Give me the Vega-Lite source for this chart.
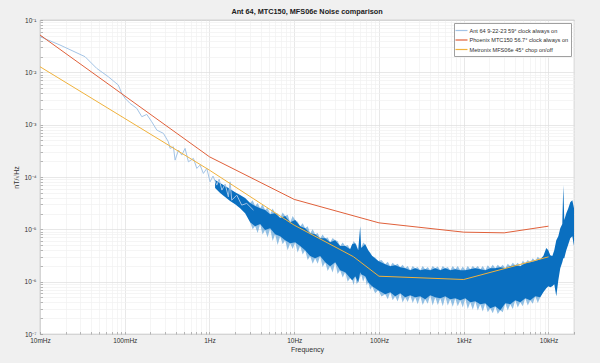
{
  "$schema": "https://vega.github.io/schema/vega-lite/v6.json",
  "width": 534,
  "height": 314,
  "autosize": {"type": "none"},
  "padding": {"left": 40, "top": 20, "right": 26, "bottom": 29},
  "background": "#f0f0f0",
  "config": {
    "font": "Liberation Sans",
    "view": {"fill": "white", "stroke": "#a0a0a0", "strokeWidth": 0.8},
    "axis": {"domain": false, "ticks": true, "tickSize": -2.5, "tickColor": "#8c8c8c", "tickWidth": 0.6, "labelFont": "Liberation Sans", "labelFontSize": 6.5, "labelColor": "#303030", "titleFont": "Liberation Sans", "titleFontSize": 7, "titleFontWeight": "normal", "titleColor": "#303030", "labelOverlap": false, "labelFlush": false}
  },
  "title": {"text": "Ant 64, MTC150, MFS06e Noise comparison", "fontSize": 7.3, "fontWeight": "bold", "color": "#202020", "offset": 2, "font": "Liberation Sans"},
  "datasets": {
    "lines": [
      {"series": "Ant 64 9-22-23 59°  clock always on", "f": 0.01, "v": 0.048},
      {"series": "Ant 64 9-22-23 59°  clock always on", "f": 0.0172, "v": 0.0333},
      {"series": "Ant 64 9-22-23 59°  clock always on", "f": 0.034, "v": 0.0199},
      {"series": "Ant 64 9-22-23 59°  clock always on", "f": 0.0467, "v": 0.0119},
      {"series": "Ant 64 9-22-23 59°  clock always on", "f": 0.064, "v": 0.00824},
      {"series": "Ant 64 9-22-23 59°  clock always on", "f": 0.084, "v": 0.00571},
      {"series": "Ant 64 9-22-23 59°  clock always on", "f": 0.0922, "v": 0.00396},
      {"series": "Ant 64 9-22-23 59°  clock always on", "f": 0.101, "v": 0.00318},
      {"series": "Ant 64 9-22-23 59°  clock always on", "f": 0.1156, "v": 0.00255},
      {"series": "Ant 64 9-22-23 59°  clock always on", "f": 0.1387, "v": 0.00205},
      {"series": "Ant 64 9-22-23 59°  clock always on", "f": 0.159, "v": 0.00142},
      {"series": "Ant 64 9-22-23 59°  clock always on", "f": 0.182, "v": 0.00157},
      {"series": "Ant 64 9-22-23 59°  clock always on", "f": 0.208, "v": 0.00114},
      {"series": "Ant 64 9-22-23 59°  clock always on", "f": 0.239, "v": 0.000788},
      {"series": "Ant 64 9-22-23 59°  clock always on", "f": 0.286, "v": 0.000682},
      {"series": "Ant 64 9-22-23 59°  clock always on", "f": 0.327, "v": 0.000471},
      {"series": "Ant 64 9-22-23 59°  clock always on", "f": 0.343, "v": 0.000352},
      {"series": "Ant 64 9-22-23 59°  clock always on", "f": 0.375, "v": 0.000378},
      {"series": "Ant 64 9-22-23 59°  clock always on", "f": 0.393, "v": 0.00021},
      {"series": "Ant 64 9-22-23 59°  clock always on", "f": 0.43, "v": 0.000327},
      {"series": "Ant 64 9-22-23 59°  clock always on", "f": 0.471, "v": 0.000262},
      {"series": "Ant 64 9-22-23 59°  clock always on", "f": 0.515, "v": 0.000352},
      {"series": "Ant 64 9-22-23 59°  clock always on", "f": 0.564, "v": 0.000195},
      {"series": "Ant 64 9-22-23 59°  clock always on", "f": 0.646, "v": 0.000227},
      {"series": "Ant 64 9-22-23 59°  clock always on", "f": 0.708, "v": 0.000146},
      {"series": "Ant 64 9-22-23 59°  clock always on", "f": 0.774, "v": 0.000169},
      {"series": "Ant 64 9-22-23 59°  clock always on", "f": 0.847, "v": 0.000117},
      {"series": "Ant 64 9-22-23 59°  clock always on", "f": 0.929, "v": 0.000146},
      {"series": "Ant 64 9-22-23 59°  clock always on", "f": 1.016, "v": 0.0000809},
      {"series": "Ant 64 9-22-23 59°  clock always on", "f": 1.1, "v": 0.000104},
      {"series": "Ant 64 9-22-23 59°  clock always on", "f": 1.22, "v": 0.00007},
      {"series": "Ant 64 9-22-23 59°  clock always on", "f": 1.3, "v": 0.0000912},
      {"series": "Ant 64 9-22-23 59°  clock always on", "f": 1.4, "v": 0.0000562},
      {"series": "Ant 64 9-22-23 59°  clock always on", "f": 1.53, "v": 0.0000731},
      {"series": "Ant 64 9-22-23 59°  clock always on", "f": 1.67, "v": 0.0000418},
      {"series": "Ant 64 9-22-23 59°  clock always on", "f": 1.75, "v": 0.0000809},
      {"series": "Ant 64 9-22-23 59°  clock always on", "f": 1.83, "v": 0.0000361},
      {"series": "Ant 64 9-22-23 59°  clock always on", "f": 2.1, "v": 0.000045},
      {"series": "Ant 64 9-22-23 59°  clock always on", "f": 2.4, "v": 0.000029},
      {"series": "Ant 64 9-22-23 59°  clock always on", "f": 2.75, "v": 0.0000313},
      {"series": "Ant 64 9-22-23 59°  clock always on", "f": 3.3, "v": 0.0000233},
      {"series": "Phoenix MTC150 56.7° clock always on", "f": 0.01, "v": 0.0517},
      {"series": "Phoenix MTC150 56.7° clock always on", "f": 1, "v": 0.000243},
      {"series": "Phoenix MTC150 56.7° clock always on", "f": 10, "v": 0.0000373},
      {"series": "Phoenix MTC150 56.7° clock always on", "f": 100, "v": 0.0000133},
      {"series": "Phoenix MTC150 56.7° clock always on", "f": 1000, "v": 0.00000883},
      {"series": "Phoenix MTC150 56.7° clock always on", "f": 3000, "v": 0.00000857},
      {"series": "Phoenix MTC150 56.7° clock always on", "f": 10000, "v": 0.0000115},
      {"series": "Metronix MFS06e  45° chop on/off", "f": 0.01, "v": 0.0128},
      {"series": "Metronix MFS06e  45° chop on/off", "f": 1, "v": 0.000135},
      {"series": "Metronix MFS06e  45° chop on/off", "f": 10, "v": 0.000012},
      {"series": "Metronix MFS06e  45° chop on/off", "f": 50, "v": 0.000003},
      {"series": "Metronix MFS06e  45° chop on/off", "f": 100, "v": 0.00000127},
      {"series": "Metronix MFS06e  45° chop on/off", "f": 1000, "v": 0.0000011},
      {"series": "Metronix MFS06e  45° chop on/off", "f": 10000, "v": 0.00000298}
    ],
    "band": [
      {"f": 1.164, "v": 8.73e-5, "v2": 6.14e-5},
      {"f": 1.334, "v": 7.64e-5, "v2": 4.92e-5},
      {"f": 1.528, "v": 6.7e-5, "v2": 4.13e-5},
      {"f": 1.75, "v": 5.87e-5, "v2": 3.46e-5},
      {"f": 2.005, "v": 5.14e-5, "v2": 3.03e-5},
      {"f": 2.297, "v": 4.51e-5, "v2": 2.54e-5},
      {"f": 2.632, "v": 3.95e-5, "v2": 2.04e-5},
      {"f": 3.015, "v": 3.17e-5, "v2": 1.37e-5},
      {"f": 3.454, "v": 2.78e-5, "v2": 1.15e-5},
      {"f": 3.957, "v": 2.54e-5, "v2": 1.26e-5},
      {"f": 4.53, "v": 2.33e-5, "v2": 9.66e-6},
      {"f": 5.19, "v": 1.95e-5, "v2": 1.05e-5},
      {"f": 5.95, "v": 2.04e-5, "v2": 8.09e-6},
      {"f": 6.82, "v": 1.64e-5, "v2": 7.41e-6},
      {"f": 7.81, "v": 1.79e-5, "v2": 6.21e-6},
      {"f": 8.95, "v": 1.37e-5, "v2": 5.45e-6},
      {"f": 10.25, "v": 1.5e-5, "v2": 5.69e-6},
      {"f": 11.74, "v": 1.15e-5, "v2": 4.78e-6},
      {"f": 13.45, "v": 1.05e-5, "v2": 4.0e-6},
      {"f": 15.41, "v": 8.46e-6, "v2": 3.08e-6},
      {"f": 17.65, "v": 8.09e-6, "v2": 2.81e-6},
      {"f": 20.2, "v": 6.79e-6, "v2": 3.08e-6},
      {"f": 23.2, "v": 6.79e-6, "v2": 2.36e-6},
      {"f": 26.5, "v": 5.69e-6, "v2": 1.98e-6},
      {"f": 30.4, "v": 6.21e-6, "v2": 2.36e-6},
      {"f": 34.8, "v": 4.78e-6, "v2": 1.66e-6},
      {"f": 39.9, "v": 4.78e-6, "v2": 1.52e-6},
      {"f": 45.7, "v": 4.18e-6, "v2": 1.17e-6},
      {"f": 48.3, "v": 5.21e-6, "v2": 1.07e-6},
      {"f": 52.4, "v": 5.45e-6, "v2": 1.27e-6},
      {"f": 56.8, "v": 4.0e-6, "v2": 9.77e-7},
      {"f": 60.0, "v": 1.15e-5, "v2": 1.52e-6},
      {"f": 61.6, "v": 4.38e-6, "v2": 1.39e-6},
      {"f": 68.7, "v": 5.21e-6, "v2": 1.27e-6},
      {"f": 74.5, "v": 4.0e-6, "v2": 9.77e-7},
      {"f": 83.1, "v": 3.08e-6, "v2": 8.2e-7},
      {"f": 97.9, "v": 2.47e-6, "v2": 6.87e-7},
      {"f": 118.4, "v": 2.16e-6, "v2": 5.77e-7},
      {"f": 135.6, "v": 1.98e-6, "v2": 6.3e-7},
      {"f": 155.3, "v": 2.07e-6, "v2": 5.28e-7},
      {"f": 177.8, "v": 1.89e-6, "v2": 6.03e-7},
      {"f": 203.8, "v": 1.81e-6, "v2": 5.06e-7},
      {"f": 233.4, "v": 1.66e-6, "v2": 5.52e-7},
      {"f": 267.4, "v": 1.81e-6, "v2": 5.06e-7},
      {"f": 306.3, "v": 1.66e-6, "v2": 5.28e-7},
      {"f": 350.9, "v": 1.73e-6, "v2": 4.62e-7},
      {"f": 401.9, "v": 1.66e-6, "v2": 5.52e-7},
      {"f": 461.3, "v": 1.81e-6, "v2": 5.06e-7},
      {"f": 528.4, "v": 1.66e-6, "v2": 4.84e-7},
      {"f": 605.3, "v": 1.81e-6, "v2": 5.28e-7},
      {"f": 693.4, "v": 1.66e-6, "v2": 4.62e-7},
      {"f": 794.3, "v": 1.73e-6, "v2": 4.84e-7},
      {"f": 909.9, "v": 1.66e-6, "v2": 4.43e-7},
      {"f": 1042, "v": 1.66e-6, "v2": 4.84e-7},
      {"f": 1194, "v": 1.73e-6, "v2": 4.06e-7},
      {"f": 1368, "v": 1.81e-6, "v2": 4.24e-7},
      {"f": 1567, "v": 1.73e-6, "v2": 3.72e-7},
      {"f": 1795, "v": 1.66e-6, "v2": 3.88e-7},
      {"f": 2056, "v": 1.81e-6, "v2": 3.11e-7},
      {"f": 2355, "v": 1.81e-6, "v2": 3.4e-7},
      {"f": 2698, "v": 1.89e-6, "v2": 2.85e-7},
      {"f": 3090, "v": 1.81e-6, "v2": 3.88e-7},
      {"f": 3540, "v": 1.98e-6, "v2": 3.72e-7},
      {"f": 4055, "v": 2.07e-6, "v2": 4.43e-7},
      {"f": 4645, "v": 1.98e-6, "v2": 4.06e-7},
      {"f": 5321, "v": 2.26e-6, "v2": 4.84e-7},
      {"f": 6095, "v": 2.36e-6, "v2": 4.43e-7},
      {"f": 6982, "v": 2.47e-6, "v2": 5.28e-7},
      {"f": 7998, "v": 2.69e-6, "v2": 5.06e-7},
      {"f": 8690, "v": 3.08e-6, "v2": 6.3e-7},
      {"f": 9419, "v": 4.38e-6, "v2": 7.52e-7},
      {"f": 9954, "v": 4.0e-6, "v2": 8.2e-7},
      {"f": 10500, "v": 3.21e-6, "v2": 7.85e-7},
      {"f": 11090, "v": 3.08e-6, "v2": 8.2e-7},
      {"f": 11700, "v": 4.0e-6, "v2": 8.95e-7},
      {"f": 12360, "v": 6.21e-6, "v2": 5.28e-7},
      {"f": 13060, "v": 7.41e-6, "v2": 1.07e-6},
      {"f": 13770, "v": 1.05e-5, "v2": 1.81e-6},
      {"f": 14550, "v": 1.26e-5, "v2": 2.36e-6},
      {"f": 14960, "v": 7.0e-5, "v2": 2.81e-6},
      {"f": 15350, "v": 1.5e-5, "v2": 2.81e-6},
      {"f": 16220, "v": 2.04e-5, "v2": 4.0e-6},
      {"f": 17140, "v": 2.54e-5, "v2": 5.21e-6},
      {"f": 18070, "v": 3.31e-5, "v2": 6.79e-6},
      {"f": 19100, "v": 3.61e-5, "v2": 7.41e-6},
      {"f": 20000, "v": 2.54e-5, "v2": 4.78e-6}
    ],
    "fringe": [
      {"f": 3.015, "v": 3.17e-5, "v2": 1.37e-5},
      {"f": 3.23, "v": 3.6e-5, "v2": 1.0e-5},
      {"f": 3.454, "v": 2.78e-5, "v2": 1.15e-5},
      {"f": 3.7, "v": 3.2e-5, "v2": 8.5e-6},
      {"f": 3.957, "v": 2.54e-5, "v2": 1.26e-5},
      {"f": 4.23, "v": 3.0e-5, "v2": 8.0e-6},
      {"f": 4.53, "v": 2.33e-5, "v2": 9.66e-6},
      {"f": 4.85, "v": 2.6e-5, "v2": 7.0e-6},
      {"f": 5.19, "v": 1.95e-5, "v2": 1.05e-5},
      {"f": 5.56, "v": 2.5e-5, "v2": 6.0e-6},
      {"f": 5.95, "v": 2.04e-5, "v2": 8.09e-6},
      {"f": 6.37, "v": 2.0e-5, "v2": 5.0e-6},
      {"f": 6.82, "v": 1.64e-5, "v2": 7.41e-6},
      {"f": 7.3, "v": 2.1e-5, "v2": 5.2e-6},
      {"f": 7.81, "v": 1.79e-5, "v2": 6.21e-6},
      {"f": 8.36, "v": 1.9e-5, "v2": 4.0e-6},
      {"f": 8.95, "v": 1.37e-5, "v2": 5.45e-6},
      {"f": 9.58, "v": 1.8e-5, "v2": 4.2e-6},
      {"f": 10.25, "v": 1.5e-5, "v2": 5.69e-6},
      {"f": 10.97, "v": 1.4e-5, "v2": 3.6e-6},
      {"f": 11.74, "v": 1.15e-5, "v2": 4.78e-6},
      {"f": 12.57, "v": 1.3e-5, "v2": 3.3e-6},
      {"f": 13.45, "v": 1.05e-5, "v2": 4.0e-6},
      {"f": 14.4, "v": 1.15e-5, "v2": 2.6e-6},
      {"f": 15.41, "v": 8.46e-6, "v2": 3.08e-6},
      {"f": 16.5, "v": 1.0e-5, "v2": 2.2e-6},
      {"f": 17.65, "v": 8.09e-6, "v2": 2.81e-6},
      {"f": 18.9, "v": 8.5e-6, "v2": 2.2e-6},
      {"f": 20.2, "v": 6.79e-6, "v2": 3.08e-6},
      {"f": 21.6, "v": 8.0e-6, "v2": 1.9e-6},
      {"f": 23.2, "v": 6.79e-6, "v2": 2.36e-6},
      {"f": 24.8, "v": 7.0e-6, "v2": 1.6e-6},
      {"f": 26.5, "v": 5.69e-6, "v2": 1.98e-6},
      {"f": 28.4, "v": 6.8e-6, "v2": 1.5e-6},
      {"f": 30.4, "v": 6.21e-6, "v2": 2.36e-6},
      {"f": 32.5, "v": 6.0e-6, "v2": 1.4e-6},
      {"f": 34.8, "v": 4.78e-6, "v2": 1.66e-6},
      {"f": 37.3, "v": 5.6e-6, "v2": 1.2e-6},
      {"f": 39.9, "v": 4.78e-6, "v2": 1.52e-6},
      {"f": 42.7, "v": 5.0e-6, "v2": 1.0e-6},
      {"f": 45.7, "v": 4.18e-6, "v2": 1.17e-6},
      {"f": 48.3, "v": 5.21e-6, "v2": 1.07e-6},
      {"f": 50.3, "v": 6.0e-6, "v2": 8.5e-7},
      {"f": 52.4, "v": 5.45e-6, "v2": 1.27e-6},
      {"f": 54.5, "v": 5.0e-6, "v2": 9.0e-7},
      {"f": 56.8, "v": 4.0e-6, "v2": 9.77e-7},
      {"f": 61.6, "v": 4.38e-6, "v2": 1.39e-6},
      {"f": 65, "v": 5.6e-6, "v2": 1.0e-6},
      {"f": 68.7, "v": 5.21e-6, "v2": 1.27e-6},
      {"f": 71.5, "v": 4.5e-6, "v2": 8.5e-7},
      {"f": 74.5, "v": 4.0e-6, "v2": 9.77e-7},
      {"f": 78.7, "v": 3.6e-6, "v2": 7.0e-7},
      {"f": 83.1, "v": 3.08e-6, "v2": 8.2e-7},
      {"f": 90, "v": 2.9e-6, "v2": 6.0e-7},
      {"f": 97.9, "v": 2.47e-6, "v2": 6.87e-7},
      {"f": 107, "v": 2.6e-6, "v2": 5.2e-7},
      {"f": 118.4, "v": 2.16e-6, "v2": 5.77e-7},
      {"f": 127, "v": 2.4e-6, "v2": 4.6e-7},
      {"f": 135.6, "v": 1.98e-6, "v2": 6.3e-7},
      {"f": 145, "v": 2.3e-6, "v2": 4.4e-7},
      {"f": 155.3, "v": 2.07e-6, "v2": 5.28e-7},
      {"f": 166, "v": 2.2e-6, "v2": 4.2e-7},
      {"f": 177.8, "v": 1.89e-6, "v2": 6.03e-7},
      {"f": 190, "v": 2.1e-6, "v2": 4.0e-7},
      {"f": 203.8, "v": 1.81e-6, "v2": 5.06e-7},
      {"f": 218, "v": 2.0e-6, "v2": 4.1e-7},
      {"f": 233.4, "v": 1.66e-6, "v2": 5.52e-7},
      {"f": 250, "v": 2.0e-6, "v2": 3.9e-7},
      {"f": 267.4, "v": 1.81e-6, "v2": 5.06e-7},
      {"f": 286, "v": 1.9e-6, "v2": 3.7e-7},
      {"f": 306.3, "v": 1.66e-6, "v2": 5.28e-7},
      {"f": 328, "v": 2.0e-6, "v2": 3.6e-7},
      {"f": 350.9, "v": 1.73e-6, "v2": 4.62e-7},
      {"f": 376, "v": 1.9e-6, "v2": 3.8e-7},
      {"f": 401.9, "v": 1.66e-6, "v2": 5.52e-7},
      {"f": 430, "v": 2.0e-6, "v2": 3.5e-7},
      {"f": 461.3, "v": 1.81e-6, "v2": 5.06e-7},
      {"f": 494, "v": 1.95e-6, "v2": 3.6e-7},
      {"f": 528.4, "v": 1.66e-6, "v2": 4.84e-7},
      {"f": 566, "v": 2.0e-6, "v2": 3.4e-7},
      {"f": 605.3, "v": 1.81e-6, "v2": 5.28e-7},
      {"f": 648, "v": 1.9e-6, "v2": 3.5e-7},
      {"f": 693.4, "v": 1.66e-6, "v2": 4.62e-7},
      {"f": 742, "v": 2.0e-6, "v2": 3.3e-7},
      {"f": 794.3, "v": 1.73e-6, "v2": 4.84e-7},
      {"f": 850, "v": 2.0e-6, "v2": 3.4e-7},
      {"f": 909.9, "v": 1.66e-6, "v2": 4.43e-7},
      {"f": 974, "v": 1.95e-6, "v2": 3.2e-7},
      {"f": 1042, "v": 1.66e-6, "v2": 4.84e-7},
      {"f": 1115, "v": 2.0e-6, "v2": 3.0e-7},
      {"f": 1194, "v": 1.73e-6, "v2": 4.06e-7},
      {"f": 1278, "v": 2.0e-6, "v2": 2.9e-7},
      {"f": 1368, "v": 1.81e-6, "v2": 4.24e-7},
      {"f": 1464, "v": 2.0e-6, "v2": 2.8e-7},
      {"f": 1567, "v": 1.73e-6, "v2": 3.72e-7},
      {"f": 1677, "v": 2.0e-6, "v2": 2.7e-7},
      {"f": 1795, "v": 1.66e-6, "v2": 3.88e-7},
      {"f": 1921, "v": 2.05e-6, "v2": 2.6e-7},
      {"f": 2056, "v": 1.81e-6, "v2": 3.11e-7},
      {"f": 2200, "v": 2.1e-6, "v2": 2.5e-7},
      {"f": 2355, "v": 1.81e-6, "v2": 3.4e-7},
      {"f": 2521, "v": 2.1e-6, "v2": 2.4e-7},
      {"f": 2698, "v": 1.89e-6, "v2": 2.85e-7},
      {"f": 2888, "v": 2.1e-6, "v2": 2.6e-7},
      {"f": 3090, "v": 1.81e-6, "v2": 3.88e-7},
      {"f": 3307, "v": 2.2e-6, "v2": 2.8e-7},
      {"f": 3540, "v": 1.98e-6, "v2": 3.72e-7},
      {"f": 3789, "v": 2.3e-6, "v2": 3.0e-7},
      {"f": 4055, "v": 2.07e-6, "v2": 4.43e-7},
      {"f": 4340, "v": 2.3e-6, "v2": 3.2e-7},
      {"f": 4645, "v": 1.98e-6, "v2": 4.06e-7},
      {"f": 4971, "v": 2.5e-6, "v2": 3.4e-7},
      {"f": 5321, "v": 2.26e-6, "v2": 4.84e-7},
      {"f": 5695, "v": 2.6e-6, "v2": 3.5e-7},
      {"f": 6095, "v": 2.36e-6, "v2": 4.43e-7},
      {"f": 6523, "v": 2.8e-6, "v2": 3.8e-7},
      {"f": 6982, "v": 2.47e-6, "v2": 5.28e-7},
      {"f": 7473, "v": 3.0e-6, "v2": 3.9e-7},
      {"f": 7998, "v": 2.69e-6, "v2": 5.06e-7}
    ]
  },
  "encoding": {
    "x": {
      "field": "f", "type": "quantitative",
      "scale": {"type": "log", "domain": [0.01, 20000], "nice": false},
      "axis": {
        "title": "Frequency", "titlePadding": 2,
        "values": [0.01,0.02,0.03,0.04,0.05,0.06,0.07,0.08,0.09,0.1,0.2,0.3,0.4,0.5,0.6,0.7,0.8,0.9,1,2,3,4,5,6,7,8,9,10,20,30,40,50,60,70,80,90,100,200,300,400,500,600,700,800,900,1000,2000,3000,4000,5000,6000,7000,8000,9000,10000,20000],
        "labelPadding": 5.5,
        "labelExpr": "abs(log(datum.value)/LN10 - round(log(datum.value)/LN10)) < 0.001 ? (datum.value < 0.999 ? round(datum.value*1000) + 'mHz' : (datum.value < 999 ? round(datum.value) + 'Hz' : round(datum.value/1000) + 'kHz')) : ''",
        "gridColor": {"condition": {"test": "abs(log(datum.value)/LN10 - round(log(datum.value)/LN10)) < 0.001", "value": "#dedede"}, "value": "#f0f0f0"},
        "gridWidth": 0.7
      }
    },
    "y": {
      "field": "v", "type": "quantitative",
      "scale": {"type": "log", "domain": [1e-7, 0.1], "nice": false},
      "axis": {
        "title": "nT/√Hz", "titlePadding": 4,
        "values": [1e-7,2e-7,3e-7,4e-7,5e-7,6e-7,7e-7,8e-7,9e-7,1e-6,2e-6,3e-6,4e-6,5e-6,6e-6,7e-6,8e-6,9e-6,1e-5,2e-5,3e-5,4e-5,5e-5,6e-5,7e-5,8e-5,9e-5,1e-4,2e-4,3e-4,4e-4,5e-4,6e-4,7e-4,8e-4,9e-4,1e-3,2e-3,3e-3,4e-3,5e-3,6e-3,7e-3,8e-3,9e-3,1e-2,2e-2,3e-2,4e-2,5e-2,6e-2,7e-2,8e-2,9e-2,0.1],
        "labelPadding": 6.5,
        "labelExpr": "abs(log(datum.value)/LN10 - round(log(datum.value)/LN10)) < 0.001 ? '10' + ['⁰','⁻¹','⁻²','⁻³','⁻⁴','⁻⁵','⁻⁶','⁻⁷'][-round(log(datum.value)/LN10)] : ''",
        "gridColor": {"condition": {"test": "abs(log(datum.value)/LN10 - round(log(datum.value)/LN10)) < 0.001", "value": "#dedede"}, "value": "#f0f0f0"},
        "gridWidth": 0.7
      }
    }
  },
  "layer": [
    {
      "data": {"name": "fringe"},
      "mark": {"type": "area", "color": "#2a83cc", "opacity": 0.5},
      "encoding": {"y2": {"field": "v2"}}
    },
    {
      "data": {"name": "band"},
      "mark": {"type": "area", "color": "#0a6fc0", "opacity": 1},
      "encoding": {"y2": {"field": "v2"}}
    },
    {
      "data": {"name": "lines"},
      "mark": {"type": "line", "strokeWidth": 1, "clip": true},
      "encoding": {
        "color": {
          "field": "series", "type": "nominal",
          "scale": {
            "domain": ["Ant 64 9-22-23 59°  clock always on", "Phoenix MTC150 56.7° clock always on", "Metronix MFS06e  45° chop on/off"],
            "range": ["#a3c4e6", "#e0603a", "#f0b23c"]
          },
          "legend": {
            "orient": "top-right", "offset": 3, "title": null,
            "fillColor": "white", "strokeColor": "#a0a0a0", "padding": 2.5,
            "labelFontSize": 5.6, "labelColor": "#303030", "labelFont": "Liberation Sans",
            "symbolType": "M-1.5,0H1.5", "symbolSize": 64, "symbolStrokeWidth": 1.2,
            "rowPadding": 0.5, "labelLimit": 250, "labelOffset": 3
          }
        },
        "order": {"field": "f", "type": "quantitative"}
      }
    }
  ]
}
